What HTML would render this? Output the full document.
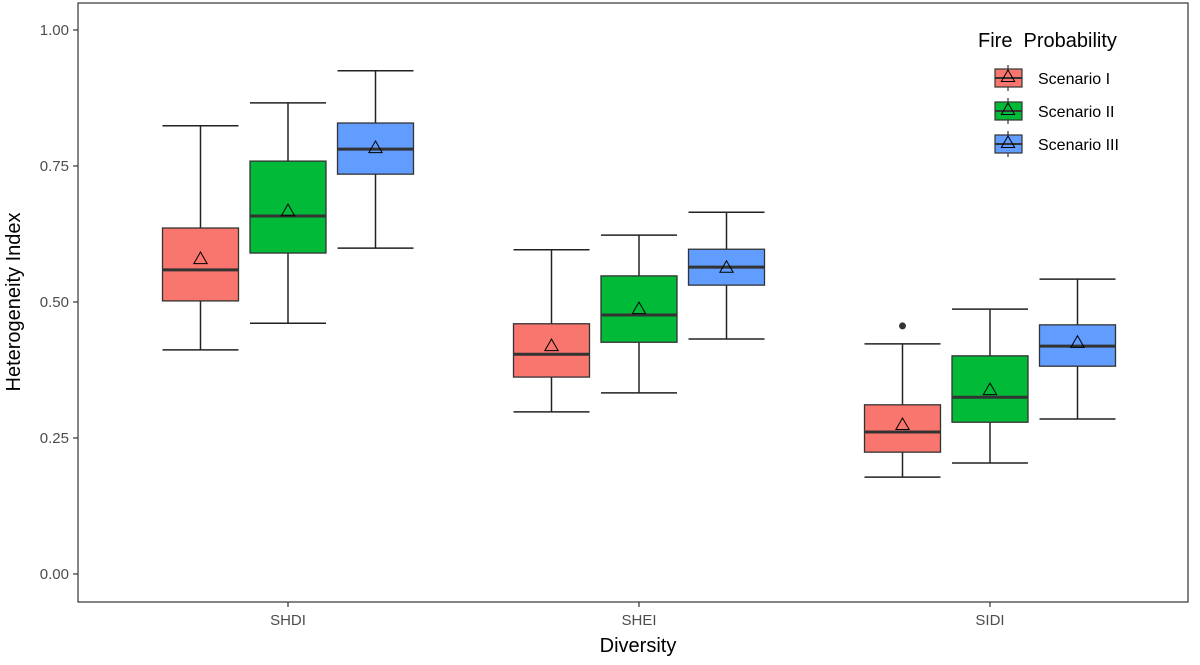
<!DOCTYPE html>
<html><head><meta charset="utf-8"><style>
body{margin:0;background:#fff}
svg text{font-family:"Liberation Sans",Arial,sans-serif}
</style></head><body>
<svg id="chart" width="1200" height="660" xmlns="http://www.w3.org/2000/svg">
<rect x="0" y="0" width="1200" height="660" fill="#fff"/>
<rect x="78" y="3" width="1110" height="599" fill="none" stroke="#333" stroke-width="1.2"/>
<g id="yaxis"></g>
<g id="xaxis"></g>
<g id="boxes"></g>
<text x="20" y="302" transform="rotate(-90 20 302)" text-anchor="middle" font-size="20" fill="#000">Heterogeneity Index</text>
<text x="638" y="652" text-anchor="middle" font-size="20" fill="#000">Diversity</text>
<g id="legend">
<text x="978" y="47" font-size="20" fill="#000">Fire&#160; Probability</text>
</g>
</svg>
<script>
const categories = ["SHDI","SHEI","SIDI"];
const scenarios = ["Scenario I","Scenario II","Scenario III"];
const colors = ["#F8766D","#00BA38","#619CFF"];
// per category, per scenario: [lowWhisker, q1, median, q3, highWhisker]
const scenarioI  = [[0.412,0.502,0.559,0.636,0.824],[0.298,0.362,0.404,0.460,0.596],[0.178,0.224,0.261,0.311,0.423]];
const scenarioII = [[0.461,0.590,0.658,0.759,0.866],[0.333,0.426,0.476,0.548,0.623],[0.204,0.279,0.325,0.401,0.487]];
const scenarioIII= [[0.599,0.735,0.781,0.829,0.925],[0.432,0.531,0.564,0.597,0.665],[0.285,0.382,0.419,0.458,0.542]];
const means = [[0.579,0.667,0.783],[0.419,0.487,0.563],[0.274,0.338,0.425]];
const outliers = [[2,0,0.456]]; // [category, scenario, value]
const yTicks = [0,0.25,0.5,0.75,1.0];
const yTickLabels = ["0.00","0.25","0.50","0.75","1.00"];

const NS="http://www.w3.org/2000/svg";
const y = v => 574 - 544*v;
const xc = i => 288 + i*351;
const xs = (i,j) => xc(i) + (j-1)*87.5;
const BW = 76;
function mk(tag, attrs, parent){const e=document.createElementNS(NS,tag);for(const k in attrs)e.setAttribute(k,attrs[k]);parent.appendChild(e);return e;}
const ya=document.getElementById('yaxis'), xa=document.getElementById('xaxis'), bx=document.getElementById('boxes'), lg=document.getElementById('legend');
yTicks.forEach((t,k)=>{
  const l=mk('line',{x1:73,x2:78,y1:y(t),y2:y(t),stroke:'#333','stroke-width':1.2},ya);
  
  
  const tx=mk('text',{x:69,y:y(t)+5,'text-anchor':'end','font-size':15,fill:'#4d4d4d'},ya);
  tx.textContent=yTickLabels[k];
  
  
});
categories.forEach((c,i)=>{
  const l=mk('line',{x1:xc(i),x2:xc(i),y1:602,y2:607,stroke:'#333','stroke-width':1.2},xa);
  
  
  const tx=mk('text',{x:xc(i),y:625,'text-anchor':'middle','font-size':15,fill:'#4d4d4d'},xa);
  tx.textContent=c;
  
  
});
const series=[scenarioI,scenarioII,scenarioIII];
function tri(cx,cy,s,parent){return mk('path',{d:`M${cx},${cy-s} L${cx+s*0.95},${cy+s*0.65} L${cx-s*0.95},${cy+s*0.65} Z`,fill:'none',stroke:'#000','stroke-width':1},parent);}
categories.forEach((c,i)=>{
  series.forEach((s,j)=>{
    const d=s[i], x=xs(i,j);
    const g=mk('g',{},bx);
    
    
    mk('line',{x1:x,x2:x,y1:y(d[4]),y2:y(d[3]),stroke:'#222','stroke-width':1.5},g);
    mk('line',{x1:x,x2:x,y1:y(d[1]),y2:y(d[0]),stroke:'#222','stroke-width':1.5},g);
    mk('line',{x1:x-BW/2,x2:x+BW/2,y1:y(d[4]),y2:y(d[4]),stroke:'#222','stroke-width':1.5},g);
    mk('line',{x1:x-BW/2,x2:x+BW/2,y1:y(d[0]),y2:y(d[0]),stroke:'#222','stroke-width':1.5},g);
    mk('rect',{x:x-BW/2,y:y(d[3]),width:BW,height:y(d[1])-y(d[3]),fill:colors[j],stroke:'#333','stroke-width':1.3},g);
    mk('line',{x1:x-BW/2,x2:x+BW/2,y1:y(d[2]),y2:y(d[2]),stroke:'#333','stroke-width':3},g);
    tri(x,y(means[i][j]),7,g);
  });
});
outliers.forEach(o=>{
  const c=mk('circle',{cx:xs(o[0],o[1]),cy:y(o[2]),r:3.5,fill:'#333'},bx);
  
  
});
scenarios.forEach((s,j)=>{
  const cy=78+j*33;
  const g=mk('g',{},lg);
  
  
  mk('line',{x1:1008,x2:1008,y1:cy-13,y2:cy+13,stroke:'#333','stroke-width':1.2},g);
  mk('rect',{x:995,y:cy-9,width:27,height:18,fill:colors[j],stroke:'#333','stroke-width':1.2},g);
  mk('line',{x1:995,x2:1022,y1:cy,y2:cy,stroke:'#333','stroke-width':2},g);
  tri(1008,cy-1,7,g);
  const t=mk('text',{x:1038,y:cy+6,'font-size':16,fill:'#000'},g);
  t.textContent=s;
});
</script>
</body></html>
